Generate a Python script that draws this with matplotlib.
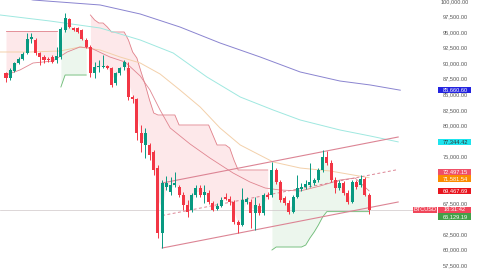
import matplotlib
matplotlib.use("Agg")
import matplotlib.pyplot as plt
import numpy as np
from matplotlib.patches import Rectangle

plt.rcParams['font.family'] = ['Liberation Sans', 'DejaVu Sans']

# BTCUSD candles, oldest first
opens = [88420, 87620, 88745, 90030, 90675, 91640, 93890, 93730, 91640, 91000,
         90675, 91000, 90515, 91000, 95340, 97110, 95660, 95660, 95340, 93730,
         92600, 88420, 89390, 89390, 89550, 89225, 86815, 88420, 89390, 89225,
         84560, 84240, 78775, 76845, 76845, 75720, 73145, 62695, 70090, 69285,
         70415, 70090, 68805, 67195, 66395, 68805, 69930, 68805, 69125, 67520,
         66555, 67035, 68485, 68160, 67680, 64465, 63980, 67680, 67680, 65910,
         67035, 65910, 68805, 68805, 72825, 70895, 68320, 67520, 66070, 68485,
         69770, 70090, 70415, 70735, 71215, 72825, 74915, 73950, 71215, 69930,
         70735, 69125, 67680, 70895, 70415, 71380, 68805]
highs = [88585, 89225, 90190, 91000, 91800, 94855, 94855, 94050, 91800, 91320,
         91000, 91320, 92600, 95820, 98070, 97270, 95820, 95820, 95500, 94050,
         92920, 90190, 90515, 91320, 89710, 89390, 88585, 89390, 90515, 90190,
         84880, 84400, 80060, 79580, 77165, 76040, 73630, 71215, 71860, 71700,
         72500, 70415, 69285, 68000, 69125, 70415, 70415, 70415, 69610, 67840,
         67520, 68485, 69125, 68645, 68000, 64785, 69930, 68485, 68160, 68485,
         67520, 69125, 69285, 74110, 73145, 71215, 68645, 68000, 68805, 72020,
         70735, 71215, 73950, 71540, 73145, 76040, 75880, 74430, 71700, 71215,
         71055, 69610, 71215, 71215, 72020, 71700, 69125]
lows = [86975, 87300, 88585, 89870, 90515, 91480, 93250, 91320, 89710, 90030,
        90190, 90030, 90030, 90675, 95015, 95660, 95180, 94855, 93730, 92440,
        87780, 87620, 88585, 89225, 89065, 86170, 86495, 88100, 88905, 84080,
        83600, 77650, 75720, 74755, 74430, 72020, 61890, 60280, 69610, 68805,
        70090, 68485, 66395, 65265, 66070, 68485, 68485, 67520, 67360, 66235,
        66395, 66875, 68000, 67195, 64140, 62695, 63820, 67360, 63500, 63175,
        65590, 65590, 68160, 68485, 70575, 67680, 67195, 65750, 65910, 68320,
        69450, 69770, 70090, 70415, 70895, 72500, 73630, 70895, 69125, 69610,
        68805, 67360, 67520, 69770, 70090, 68645, 65750]
closes = [87620, 88905, 90030, 90675, 91480, 93890, 94210, 91640, 91000, 90515,
          90515, 90190, 91160, 95500, 97270, 95820, 95340, 95015, 93890, 92600,
          88420, 89390, 89550, 89550, 89225, 86495, 88420, 89225, 90190, 84560,
          84240, 78775, 77165, 78775, 75235, 72825, 62695, 70735, 70735, 70415,
          70735, 68805, 67195, 66070, 68805, 69930, 68805, 69285, 67680, 66395,
          67035, 68000, 68160, 67680, 64465, 63980, 68000, 68160, 65910, 67195,
          65910, 68805, 68485, 72825, 70895, 68000, 67520, 66070, 68485, 69930,
          70090, 70575, 70895, 71215, 72825, 74915, 73950, 71215, 69930, 70735,
          69125, 67680, 70895, 70090, 71380, 68805, 66395]

# SuperTrend value and direction per candle (+1 up, -1 down)
supertrend = [95180] * 13 + [86170] + [88100] * 6 + \
             [97750, 96945, 96460, 96460, 95820, 95015, 95015, 95015, 95015,
              93730, 91800, 90835, 88585, 86495, 84080, 81990] + [81670] * 5 + \
             [80060] * 8 + [78450, 76845, 76845, 76845, 76360, 74430] + \
             [72825] * 8 + [59960] + [60445] * 7 + \
             [60765, 61890, 62855, 63980, 65265] + [66130] * 11
st_dir = [-1] * 13 + [1] * 7 + [-1] * 43 + [1] * 24

# moving averages (bar index, price)
ma_long_x = [3, 6.4, 22.3, 31.8, 41.2, 50.7, 60.2, 69.7, 79.1, 86.3, 93.4]
ma_long_y = [100700, 100160, 99360, 97910, 95820, 93250, 91000, 88585, 87135, 86495, 85660]
ma_mid_x = [-1.4, 10.4, 22.3, 31.8, 39.6, 47.6, 55.5, 63.3, 69.7, 79.1, 86.3, 92.9]
ma_mid_y = [97750, 96785, 95660, 93730, 91640, 87780, 84560, 82470, 80865, 79260, 78290, 77344]
ma_slow_x = [-1.4, 5.7, 12.8, 17.5, 22.3, 27.0, 31.8, 36.5, 41.2, 46.0, 50.7, 55.5,
             63.3, 69.7, 76.8, 86]
ma_slow_y = [91800, 91800, 91960, 92600, 92120, 91000, 90030, 88260, 85690, 82955,
             79580, 76845, 74110, 73145, 72665, 71580]
ma_fast_x = [0, 3.3, 6.4, 11.1, 14.5, 17.5, 20.1, 24.6, 28.2, 31.8, 34.1, 36.5,
             38.9, 43.6, 48.3, 53.8, 57.8, 61.4, 64.9, 69.7, 74.4, 79.1, 82.7, 86]
ma_fast_y = [88100, 88905, 90030, 90350, 91800, 92600, 92440, 91000, 90190, 87940,
             85690, 82470, 79580, 77005, 74755, 72340, 70895, 69930, 69610, 69450,
             70250, 71215, 71540, 69467]

# parallel channel drawing
chan_x = [37, 92.9]
chan_upper = [70735, 78130]
chan_lower = [60280, 67680]

# price scale labels
label_values = [85660.60, 77344.42, 72497.15, 71581.54, 69467.69, closes[-1], 66129.19]
label_texts = ['85,660.60', '77,344.42', '72,497.15', '71,581.54', '69,467.69', '18:31:42', '66,129.19']
label_colors = ['#2323e0', '#1de4ee', '#ef5068', '#fb8c00', '#e8141e', '#f0465a', '#43a047']
label_text_colors = ['white', '#333333', 'white', 'white', 'white', 'white', 'white']

up_col = '#089981'
dn_col = '#f23645'

n = len(opens)
x = np.arange(n)
o = np.array(opens)
c = np.array(closes)

fig = plt.figure(figsize=(4.8, 2.7), dpi=100)
ax = fig.add_axes([0, 0, 437 / 480, 1])
ax.set_xlim(-1.42, 102.1)
ax.set_ylim(56745, 100161)

# supertrend lines and fills
st = np.array(supertrend, dtype=float)
d = np.array(st_dir)
mid = (o + c) / 2
cuts = [0] + [k for k in range(1, n) if d[k] != d[k - 1]] + [n]
for a, b in zip(cuts[:-1], cuts[1:]):
    if d[a] > 0:
        ax.fill_between(x[a:b], st[a:b], mid[a:b], color='#4caf50', alpha=0.1, lw=0, zorder=1)
        ax.plot(x[a:b], st[a:b], color='#6dbb76', lw=0.6, zorder=2)
    else:
        ax.fill_between(x[a:b], st[a:b], mid[a:b], color='#f23645', alpha=0.11, lw=0, zorder=1)
        ax.plot(x[a:b], st[a:b], color='#e0808a', lw=0.6, zorder=2)

# moving averages
ax.plot(ma_long_x, ma_long_y, color='#8a84d0', lw=0.7, zorder=2)
ax.plot(ma_mid_x, ma_mid_y, color='#9fe8e0', lw=0.7, zorder=2)
ax.plot(ma_slow_x, ma_slow_y, color='#f3d0aa', lw=0.7, zorder=2)
ax.plot(ma_fast_x, ma_fast_y, color='#e08590', lw=0.6, zorder=2)

# channel
ax.plot(chan_x, chan_upper, color='#dc8494', lw=0.8, zorder=3)
ax.plot(chan_x, chan_lower, color='#dc8494', lw=0.8, zorder=3)
chan_mid = [(u + l) / 2 for u, l in zip(chan_upper, chan_lower)]
ax.plot(chan_x, chan_mid, color='#dc8494', lw=0.7, ls=(0, (3, 2.5)), zorder=3)

# last price line
ax.axhline(closes[-1], color='#cfc6c8', lw=0.5, zorder=1)

# candles
colors = np.where(c >= o, up_col, dn_col)
ax.vlines(x, lows, highs, colors=colors, lw=0.7, zorder=4)
body = np.where(np.abs(c - o) < 130, 130, np.abs(c - o))
ax.bar(x, body, bottom=np.minimum(o, c), width=0.72, color=colors, lw=0, zorder=5)

for s in ax.spines.values():
    s.set_visible(False)
ax.set_xticks([])
ax.yaxis.tick_right()

# tick labels hidden behind the price boxes are left out, as on the price scale
yt = [v for v in np.arange(57500, 100001, 2500) if v not in (72500, 70000, 65000)]
ax.set_yticks(yt)
ax.set_yticklabels(['{:,.2f}'.format(v) for v in yt], fontsize=4.1, color='#555555', ha='center')
ax.tick_params(axis='y', length=0, pad=13)

# boxes on the price scale, pushed down when they overlap
fig.canvas.draw()
H = 270.0
bh = 6.4
order = sorted(range(len(label_values)), key=lambda k: -label_values[k])
prev = None
for k in order:
    yp = ax.transData.transform((0, label_values[k]))[1]
    if prev is not None and yp > prev - bh:
        yp = prev - bh
    prev = yp
    fig.add_artist(Rectangle((438 / 480, (yp - bh / 2) / H), 33 / 480, bh / H,
                             transform=fig.transFigure, color=label_colors[k], lw=0, zorder=5))
    fig.text(455 / 480, yp / H, label_texts[k], fontsize=4.1, color=label_text_colors[k],
             ha='center', va='center', zorder=6)
    if label_texts[k] == '18:31:42':
        fig.add_artist(Rectangle((413 / 480, (yp - bh / 2) / H), 24 / 480, bh / H,
                                 transform=fig.transFigure, color=label_colors[k], lw=0, zorder=5))
        fig.text(425 / 480, yp / H, 'BTCUSD', fontsize=4.1, color='white',
                 ha='center', va='center', zorder=6)

fig.savefig('out.png', dpi=100, facecolor='white')
